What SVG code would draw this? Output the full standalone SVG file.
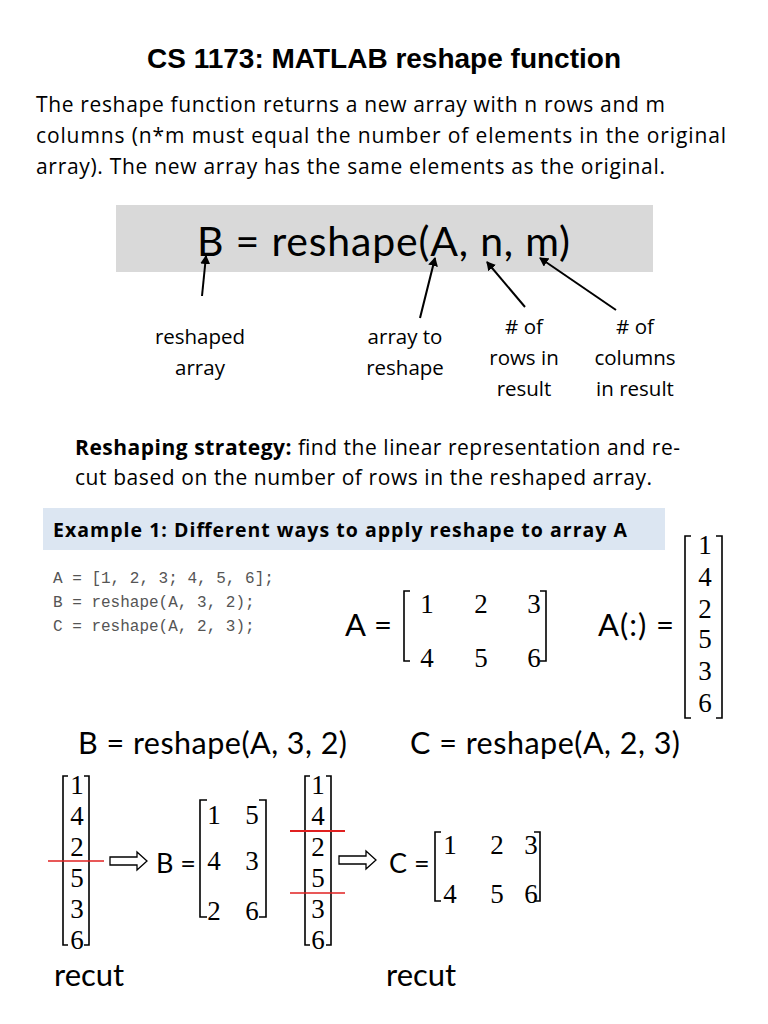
<svg xmlns="http://www.w3.org/2000/svg" width="768" height="1024" viewBox="0 0 768 1024">
<style>
.s{font-family:"Open Sans","Liberation Sans",sans-serif;fill:#000}
.l{font-family:Lato,"Open Sans",sans-serif;fill:#000}
.m{font-family:"Liberation Serif",serif;font-size:27px;fill:#000;text-anchor:middle}
.br{fill:none;stroke:#000;stroke-width:1.6}
.red{stroke:#e02020;stroke-width:1.5}
.ar{stroke:#000;stroke-width:2;fill:none;marker-end:url(#ah)}
.ha{fill:#fff;stroke:#000;stroke-width:1.3}
</style>
<defs><marker id="ah" markerWidth="10" markerHeight="10" refX="8" refY="5" orient="auto" markerUnits="userSpaceOnUse"><path d="M0,0 L9,5 L0,10 Z" fill="#000"/></marker></defs>
<rect width="768" height="1024" fill="#fff"/>
<text x="384" y="68" font-size="28" font-weight="bold" text-anchor="middle" font-family="'Liberation Sans',sans-serif">CS 1173: MATLAB reshape function</text>
<g class="s" font-size="21">
<text x="36" y="112" textLength="629">The reshape function returns a new array with n rows and m</text>
<text x="36" y="143" textLength="690">columns  (n*m must equal the number of  elements in the original</text>
<text x="36" y="174" textLength="629">array).  The new array has the same elements as the original.</text>
</g>
<g id="formula"><rect x="116" y="205" width="537" height="67" fill="#d9d9d9"/>
<text class="l" x="197" y="256" font-size="41" textLength="373">B = reshape(A, n, m)</text></g>
<g id="connectors">
<line class="ar" x1="202" y1="296" x2="206" y2="256"/>
<line class="ar" x1="420" y1="318" x2="435" y2="258"/>
<line class="ar" x1="525" y1="307" x2="487" y2="262"/>
<line class="ar" x1="616" y1="310" x2="540" y2="258"/>
</g>
<g class="s" font-size="20.5" text-anchor="middle">
<g id="l1"><text x="200" y="344">reshaped</text><text x="200" y="375">array</text></g>
<g id="l2"><text x="405" y="344">array to</text><text x="405" y="375">reshape</text></g>
<g id="l3"><text x="524" y="334">  # of</text><text x="524" y="365">rows in</text><text x="524" y="396">result</text></g>
<g id="l4"><text x="635" y="334"># of</text><text x="635" y="365">columns</text><text x="635" y="396">in result</text></g>
</g>
<g class="s" font-size="21">
<text x="75" y="455" textLength="605"><tspan font-weight="bold">Reshaping strategy:</tspan>  find the linear representation and re-</text>
<text x="75" y="485" textLength="577">cut based on the number of rows in the reshaped array.</text>
</g>
<rect x="43" y="508" width="622" height="42" fill="#dce6f2"/>
<text class="s" x="53" y="537" font-size="19.5" font-weight="bold" textLength="574">Example 1:  Different ways to apply reshape to array A</text>
<g font-family="'Liberation Mono',monospace" font-size="16" fill="#555">
<text x="53" y="583">A = [1, 2, 3; 4, 5, 6];</text>
<text x="53" y="607">B = reshape(A, 3, 2);</text>
<text x="53" y="631">C = reshape(A, 2, 3);</text>
</g>
<text class="l" x="345" y="636" font-size="31" textLength="47">A =</text>
<path class="br" d="M410,591 H404 V661 H410 M540,591 H546 V661 H540"/>
<g class="m"><text x="427" y="613">1</text><text x="481" y="613">2</text><text x="534" y="613">3</text>
<text x="427" y="667">4</text><text x="481" y="667">5</text><text x="534" y="667">6</text></g>
<text class="l" x="598" y="636" font-size="31" textLength="76">A(:) =</text>
<path class="br" d="M691,536 H685 V718 H691 M716,536 H722 V718 H716"/>
<g class="m"><text x="705" y="554">1</text><text x="705" y="586">4</text><text x="705" y="618">2</text><text x="705" y="648">5</text><text x="705" y="680">3</text><text x="705" y="712">6</text></g>
<text class="l" x="78" y="754" font-size="30.5" textLength="269">B = reshape(A, 3, 2)</text>
<text class="l" x="410" y="754" font-size="30.5" textLength="270">C = reshape(A, 2, 3)</text>
<path class="br" d="M68,776 H63 V945 H68 M84,776 H89 V945 H84"/>
<g class="m"><text x="77" y="794">1</text><text x="77" y="825">4</text><text x="77" y="856">2</text><text x="77" y="887">5</text><text x="77" y="918">3</text><text x="77" y="949">6</text></g>
<line class="red" x1="48" y1="861" x2="104" y2="861"/>
<path class="ha" d="M110,857 H137 V852 L147,861 L137,870 V865 H110 Z"/>
<text class="l" x="156" y="873" font-size="27">B =</text>
<path class="br" d="M207,800 H200 V917 H207 M259,800 H266 V917 H259"/>
<g class="m"><text x="214" y="824">1</text><text x="252" y="824">5</text><text x="214" y="870">4</text><text x="252" y="870">3</text><text x="214" y="920">2</text><text x="252" y="920">6</text></g>
<path class="br" d="M310,776 H305 V945 H310 M326,776 H331 V945 H326"/>
<g class="m"><text x="318" y="794">1</text><text x="318" y="825">4</text><text x="318" y="856">2</text><text x="318" y="887">5</text><text x="318" y="918">3</text><text x="318" y="949">6</text></g>
<line class="red" x1="290" y1="831" x2="345" y2="831" style="stroke-width:2"/>
<line class="red" x1="290" y1="893" x2="345" y2="893"/>
<path class="ha" d="M339,856 H366 V851 L376,860 L366,869 V864 H339 Z"/>
<text class="l" x="389" y="873" font-size="27">C =</text>
<path class="br" d="M441,832 H435 V901 H441 M534,832 H540 V901 H534"/>
<g class="m"><text x="450" y="854">1</text><text x="497" y="854">2</text><text x="531" y="854">3</text><text x="450" y="903">4</text><text x="497" y="903">5</text><text x="531" y="903">6</text></g>
<text class="l" x="54" y="986" font-size="31">recut</text>
<text class="l" x="386" y="986" font-size="31">recut</text>
</svg>
